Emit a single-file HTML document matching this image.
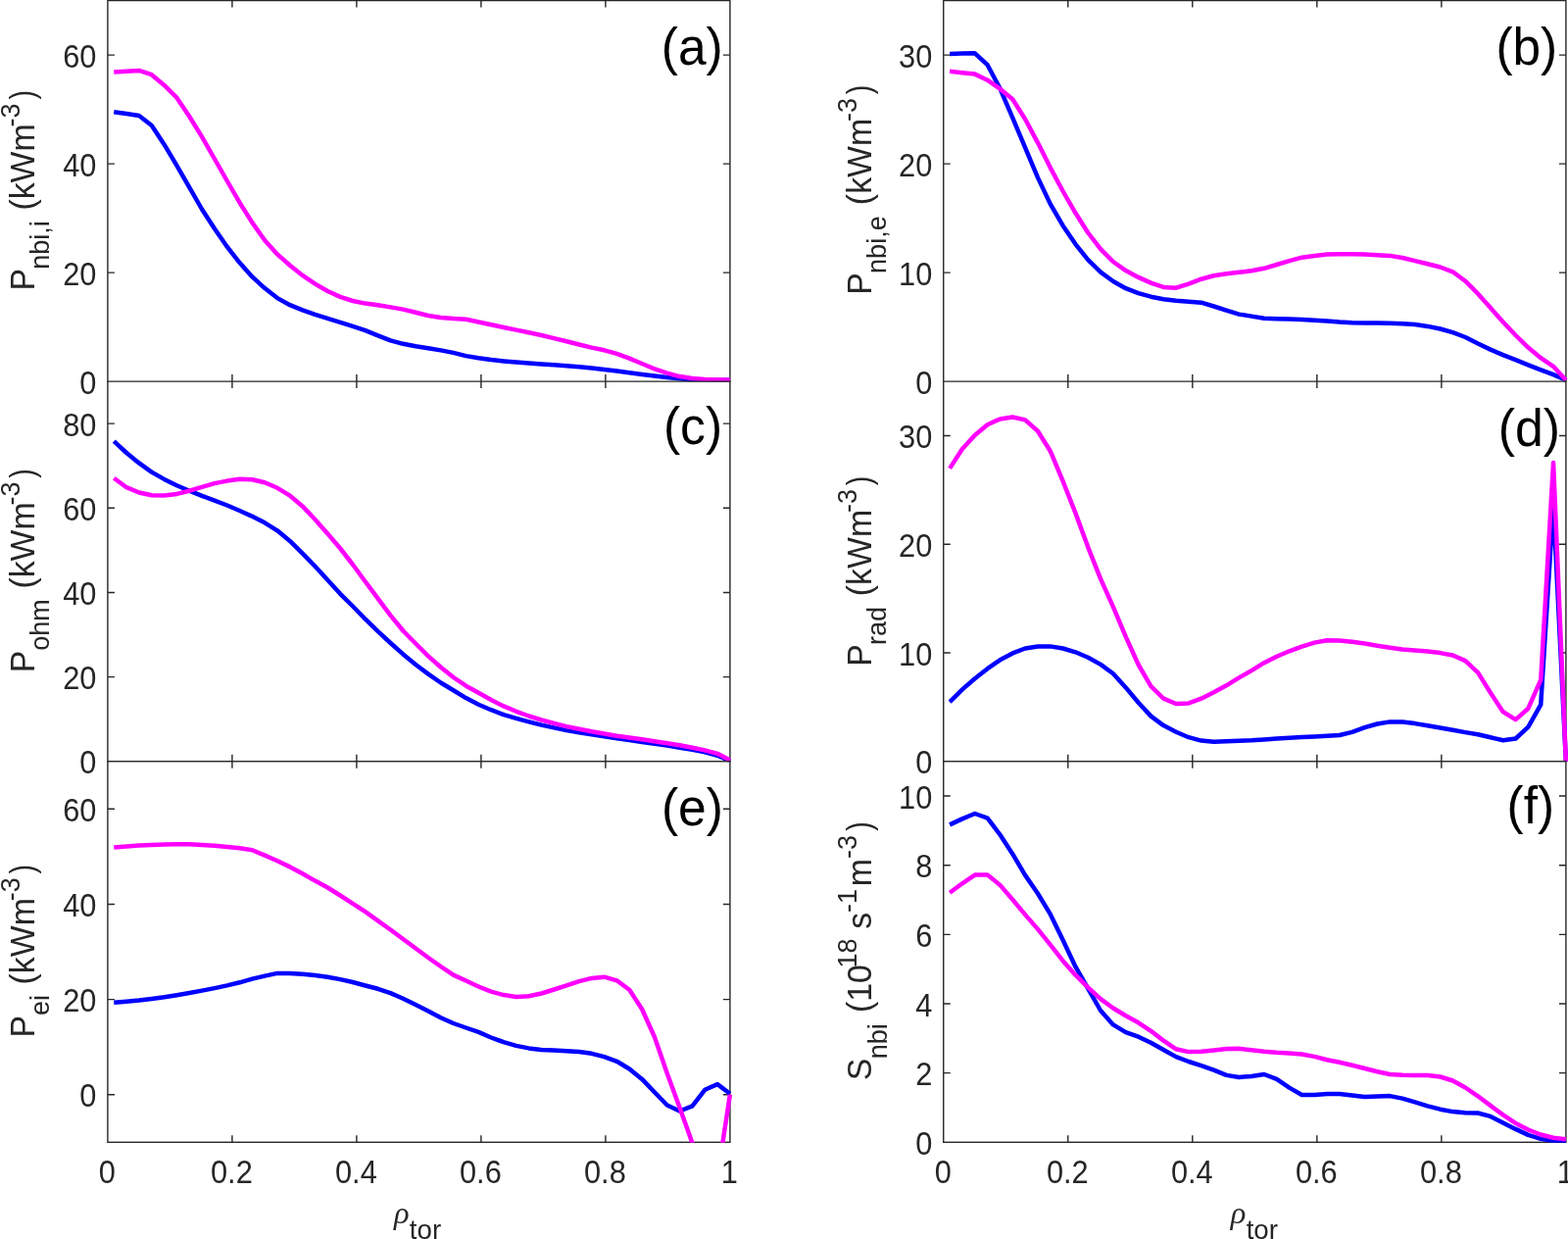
<!DOCTYPE html><html><head><meta charset="utf-8"><title>Power density profiles</title><style>html,body{margin:0;padding:0;background:#fff;overflow:hidden;}svg{display:block;}text{font-family:"Liberation Sans",Arial,sans-serif;}</style></head><body>
<svg width="1600" height="1264" viewBox="0 0 1600 1264">
<rect width="1600" height="1264" fill="#fff"/>
<defs>
<clipPath id="clip_a"><rect x="106.9" y="-2.4" width="641" height="392"/></clipPath>
<clipPath id="clip_b"><rect x="959.75" y="-2.4" width="641.15" height="392"/></clipPath>
<clipPath id="clip_c"><rect x="106.9" y="386.1" width="641" height="391.15"/></clipPath>
<clipPath id="clip_d"><rect x="959.75" y="386.1" width="641.15" height="391.15"/></clipPath>
<clipPath id="clip_e"><rect x="106.9" y="773.75" width="641" height="392.05"/></clipPath>
<clipPath id="clip_f"><rect x="959.75" y="773.75" width="641.15" height="392.05"/></clipPath>
</defs>
<path d="M109.9 0.6H744.9V389.1M109.9 0.6V389.1" fill="none" stroke="#262626" stroke-width="1.4" stroke-linecap="square"/>
<path d="M236.9 389.1V382.1M236.9 0.6V7.6M363.9 389.1V382.1M363.9 0.6V7.6M490.9 389.1V382.1M490.9 0.6V7.6M617.9 389.1V382.1M617.9 0.6V7.6M109.9 278.1H116.9M744.9 278.1H737.9M109.9 167.1H116.9M744.9 167.1H737.9M109.9 56.1H116.9M744.9 56.1H737.9" stroke="#262626" stroke-width="1.4" fill="none"/>
<path d="M116.25 114.2 L129.08 116 L141.91 118 L154.74 128 L167.57 147.4 L180.4 168.8 L193.23 191.2 L206.06 213.5 L218.89 233.3 L231.72 251.7 L244.55 268.1 L257.38 282.4 L270.21 294.1 L283.03 304.1 L295.86 311.2 L308.69 316.4 L321.52 320.9 L334.35 324.9 L347.18 328.8 L360.01 332.8 L372.84 337.1 L385.67 342.3 L398.5 347.3 L411.33 350.8 L424.16 353.3 L436.99 355.2 L449.82 357.4 L462.65 359.9 L475.48 363.1 L488.31 365.2 L501.14 367 L513.97 368.4 L526.8 369.6 L539.63 370.6 L552.46 371.4 L565.29 372.2 L578.12 373.2 L590.94 374.3 L603.77 375.6 L616.6 377 L629.43 378.6 L642.26 380.3 L655.09 381.9 L667.92 383.5 L680.75 384.9 L693.58 386.3 L706.41 387.3 L719.24 387.5 L732.07 387.7 L744.9 387.8" fill="none" stroke="#0000ff" stroke-width="4.5" stroke-linejoin="round" stroke-linecap="butt" clip-path="url(#clip_a)"/>
<path d="M116.25 73.4 L129.08 72.7 L141.91 71.9 L154.74 76.2 L167.57 86.9 L180.4 99.7 L193.23 118.7 L206.06 139.6 L218.89 162 L231.72 184.5 L244.55 206.7 L257.38 227.1 L270.21 245.2 L283.03 259.4 L295.86 270.8 L308.69 280.9 L321.52 289.6 L334.35 297 L347.18 302.9 L360.01 307 L372.84 309.6 L385.67 311.2 L398.5 313.4 L411.33 315.6 L424.16 318.8 L436.99 322 L449.82 323.9 L462.65 325.1 L475.48 325.8 L488.31 328.5 L501.14 331.3 L513.97 334 L526.8 336.6 L539.63 339.3 L552.46 342 L565.29 345.1 L578.12 348.2 L590.94 351.5 L603.77 354.6 L616.6 357.3 L629.43 360.8 L642.26 365.6 L655.09 371 L667.92 376.3 L680.75 380.6 L693.58 384.1 L706.41 386 L719.24 386.9 L732.07 387.2 L744.9 387.8" fill="none" stroke="#ff00ff" stroke-width="4.5" stroke-linejoin="round" stroke-linecap="butt" clip-path="url(#clip_a)"/>
<text transform="translate(98.4 401.7) scale(0.937 1)" font-size="32.86" fill="#262626" text-anchor="end">0</text>
<text transform="translate(98.4 290.7) scale(0.937 1)" font-size="32.86" fill="#262626" text-anchor="end">20</text>
<text transform="translate(98.4 179.7) scale(0.937 1)" font-size="32.86" fill="#262626" text-anchor="end">40</text>
<text transform="translate(98.4 68.7) scale(0.937 1)" font-size="32.86" fill="#262626" text-anchor="end">60</text>
<text transform="translate(674.79 65.64) scale(0.96 1)" font-size="53.67" fill="#000">(a)</text>
<g fill="#262626" style="font-kerning:none"><text transform="translate(35 296.47) rotate(-90) scale(0.95 1)" font-size="35.6">P</text><text transform="translate(50.4 274.69) rotate(-90) scale(0.975 1)" font-size="27.7">nbi,i</text><text transform="translate(35 214.57) rotate(-90) scale(0.95 1)" font-size="35.6">(kWm</text><text transform="translate(20 129.38) rotate(-90) scale(0.975 1)" font-size="27.7">-3</text><text transform="translate(35 101.62) rotate(-90) scale(0.8 1)" font-size="35.6">)</text></g>
<path d="M962.75 0.6H1597.9V389.1M962.75 0.6V389.1" fill="none" stroke="#262626" stroke-width="1.4" stroke-linecap="square"/>
<path d="M1089.78 389.1V382.1M1089.78 0.6V7.6M1216.81 389.1V382.1M1216.81 0.6V7.6M1343.84 389.1V382.1M1343.84 0.6V7.6M1470.87 389.1V382.1M1470.87 0.6V7.6M962.75 278.1H969.75M1597.9 278.1H1590.9M962.75 167.1H969.75M1597.9 167.1H1590.9M962.75 56.1H969.75M1597.9 56.1H1590.9" stroke="#262626" stroke-width="1.4" fill="none"/>
<path d="M969.1 54.9 L981.93 54.6 L994.77 54.3 L1007.6 66.2 L1020.43 90.3 L1033.26 120.2 L1046.1 150.7 L1058.93 181.1 L1071.76 208.1 L1084.6 230.2 L1097.43 249.1 L1110.26 265.1 L1123.09 277.6 L1135.93 287 L1148.76 294.2 L1161.59 299.2 L1174.42 302.7 L1187.26 305.2 L1200.09 306.8 L1212.92 307.8 L1225.75 308.7 L1238.59 312.5 L1251.42 316.7 L1264.25 320.6 L1277.08 322.6 L1289.92 324.8 L1302.75 325.3 L1315.58 325.6 L1328.41 325.9 L1341.25 326.8 L1354.08 327.6 L1366.91 328.6 L1379.75 329.2 L1392.58 329.5 L1405.41 329.5 L1418.24 329.7 L1431.08 330.2 L1443.91 331 L1456.74 332.9 L1469.57 335.5 L1482.41 339.2 L1495.24 344 L1508.07 350.5 L1520.9 356.6 L1533.74 362.1 L1546.57 367.2 L1559.4 372.4 L1572.23 377.4 L1585.07 382.1 L1597.9 387.8" fill="none" stroke="#0000ff" stroke-width="4.5" stroke-linejoin="round" stroke-linecap="butt" clip-path="url(#clip_b)"/>
<path d="M969.1 72.8 L981.93 74.2 L994.77 75.6 L1007.6 81.7 L1020.43 90.7 L1033.26 101.2 L1046.1 121.5 L1058.93 145.6 L1071.76 171.1 L1084.6 195 L1097.43 217.3 L1110.26 237.5 L1123.09 254.2 L1135.93 267 L1148.76 276.1 L1161.59 282.9 L1174.42 288.6 L1187.26 292.9 L1200.09 293.7 L1212.92 289.7 L1225.75 284.7 L1238.59 281.3 L1251.42 279.3 L1264.25 277.8 L1277.08 276.3 L1289.92 273.8 L1302.75 270 L1315.58 266.1 L1328.41 262.7 L1341.25 260.9 L1354.08 259.6 L1366.91 259.2 L1379.75 259.3 L1392.58 259.6 L1405.41 260.2 L1418.24 260.9 L1431.08 263 L1443.91 266.1 L1456.74 269.3 L1469.57 272.5 L1482.41 277.3 L1495.24 286.7 L1508.07 299.7 L1520.9 314.1 L1533.74 328.5 L1546.57 342 L1559.4 354.6 L1572.23 365.2 L1585.07 373.8 L1597.9 387.8" fill="none" stroke="#ff00ff" stroke-width="4.5" stroke-linejoin="round" stroke-linecap="butt" clip-path="url(#clip_b)"/>
<text transform="translate(951.25 401.7) scale(0.937 1)" font-size="32.86" fill="#262626" text-anchor="end">0</text>
<text transform="translate(951.25 290.7) scale(0.937 1)" font-size="32.86" fill="#262626" text-anchor="end">10</text>
<text transform="translate(951.25 179.7) scale(0.937 1)" font-size="32.86" fill="#262626" text-anchor="end">20</text>
<text transform="translate(951.25 68.7) scale(0.937 1)" font-size="32.86" fill="#262626" text-anchor="end">30</text>
<text transform="translate(1526.4 65.62) scale(0.96 1)" font-size="53.52" fill="#000">(b)</text>
<g fill="#262626" style="font-kerning:none"><text transform="translate(888.8 300.67) rotate(-90) scale(0.95 1)" font-size="35.6">P</text><text transform="translate(904.2 278.89) rotate(-90) scale(0.975 1)" font-size="27.7">nbi,e</text><text transform="translate(888.8 209.13) rotate(-90) scale(0.95 1)" font-size="35.6">(kWm</text><text transform="translate(873.8 123.94) rotate(-90) scale(0.975 1)" font-size="27.7">-3</text><text transform="translate(888.8 96.18) rotate(-90) scale(0.8 1)" font-size="35.6">)</text></g>
<path d="M109.9 389.1H744.9V776.75M109.9 389.1V776.75" fill="none" stroke="#262626" stroke-width="1.4" stroke-linecap="square"/>
<path d="M236.9 776.75V769.75M236.9 389.1V396.1M363.9 776.75V769.75M363.9 389.1V396.1M490.9 776.75V769.75M490.9 389.1V396.1M617.9 776.75V769.75M617.9 389.1V396.1M109.9 690.61H116.9M744.9 690.61H737.9M109.9 604.46H116.9M744.9 604.46H737.9M109.9 518.32H116.9M744.9 518.32H737.9M109.9 432.17H116.9M744.9 432.17H737.9" stroke="#262626" stroke-width="1.4" fill="none"/>
<path d="M116.25 450.2 L129.08 462 L141.91 472.4 L154.74 481.6 L167.57 488.9 L180.4 495.2 L193.23 500.7 L206.06 505.8 L218.89 510.6 L231.72 515.5 L244.55 521 L257.38 526.8 L270.21 533.3 L283.03 541.3 L295.86 551.9 L308.69 564.6 L321.52 577.8 L334.35 591.7 L347.18 605.8 L360.01 618.5 L372.84 631.7 L385.67 644.2 L398.5 656 L411.33 667.4 L424.16 678 L436.99 687.6 L449.82 696.5 L462.65 704.2 L475.48 712.1 L488.31 718.7 L501.14 724.2 L513.97 729.1 L526.8 732.8 L539.63 736.3 L552.46 739.6 L565.29 742.4 L578.12 745.1 L590.94 747.3 L603.77 749.4 L616.6 751.3 L629.43 753.2 L642.26 755.1 L655.09 757 L667.92 758.8 L680.75 760.6 L693.58 762.8 L706.41 764.9 L719.24 767.4 L732.07 770.8 L744.9 776.2" fill="none" stroke="#0000ff" stroke-width="4.5" stroke-linejoin="round" stroke-linecap="butt" clip-path="url(#clip_c)"/>
<path d="M116.25 487.8 L129.08 497.2 L141.91 502.5 L154.74 505.3 L167.57 505.6 L180.4 503.9 L193.23 500.7 L206.06 496.9 L218.89 493.1 L231.72 490.6 L244.55 488.7 L257.38 489.2 L270.21 492.3 L283.03 497.8 L295.86 505.7 L308.69 516.4 L321.52 530 L334.35 544.5 L347.18 559.5 L360.01 576 L372.84 593.5 L385.67 610.6 L398.5 627.8 L411.33 643.5 L424.16 656.5 L436.99 669.4 L449.82 680.8 L462.65 691 L475.48 699.7 L488.31 706.8 L501.14 714 L513.97 720.4 L526.8 725.8 L539.63 730.5 L552.46 734.5 L565.29 737.9 L578.12 741.1 L590.94 743.7 L603.77 746.3 L616.6 748.5 L629.43 750.7 L642.26 752.5 L655.09 754.3 L667.92 756.2 L680.75 758.2 L693.58 760.3 L706.41 762.8 L719.24 765.4 L732.07 768.8 L744.9 775.6" fill="none" stroke="#ff00ff" stroke-width="4.5" stroke-linejoin="round" stroke-linecap="butt" clip-path="url(#clip_c)"/>
<text transform="translate(98.4 789.35) scale(0.937 1)" font-size="32.86" fill="#262626" text-anchor="end">0</text>
<text transform="translate(98.4 703.21) scale(0.937 1)" font-size="32.86" fill="#262626" text-anchor="end">20</text>
<text transform="translate(98.4 617.06) scale(0.937 1)" font-size="32.86" fill="#262626" text-anchor="end">40</text>
<text transform="translate(98.4 530.92) scale(0.937 1)" font-size="32.86" fill="#262626" text-anchor="end">60</text>
<text transform="translate(98.4 444.77) scale(0.937 1)" font-size="32.86" fill="#262626" text-anchor="end">80</text>
<text transform="translate(676.9 452.68) scale(0.97 1)" font-size="53.24" fill="#000">(c)</text>
<g fill="#262626" style="font-kerning:none"><text transform="translate(35 686.17) rotate(-90) scale(0.95 1)" font-size="35.6">P</text><text transform="translate(50.4 663.73) rotate(-90) scale(0.975 1)" font-size="27.7">ohm</text><text transform="translate(35 600.57) rotate(-90) scale(0.95 1)" font-size="35.6">(kWm</text><text transform="translate(20 515.39) rotate(-90) scale(0.975 1)" font-size="27.7">-3</text><text transform="translate(35 487.63) rotate(-90) scale(0.8 1)" font-size="35.6">)</text></g>
<path d="M962.75 389.1H1597.9V776.75M962.75 389.1V776.75" fill="none" stroke="#262626" stroke-width="1.4" stroke-linecap="square"/>
<path d="M1089.78 776.75V769.75M1089.78 389.1V396.1M1216.81 776.75V769.75M1216.81 389.1V396.1M1343.84 776.75V769.75M1343.84 389.1V396.1M1470.87 776.75V769.75M1470.87 389.1V396.1M962.75 665.99H969.75M1597.9 665.99H1590.9M962.75 555.24H969.75M1597.9 555.24H1590.9M962.75 444.48H969.75M1597.9 444.48H1590.9" stroke="#262626" stroke-width="1.4" fill="none"/>
<path d="M969.1 716.1 L981.93 703.4 L994.77 692.3 L1007.6 682.2 L1020.43 673.3 L1033.26 666.4 L1046.1 661.5 L1058.93 659.5 L1071.76 659.4 L1084.6 661.5 L1097.43 665.3 L1110.26 670.8 L1123.09 677.9 L1135.93 687.3 L1148.76 701.4 L1161.59 716.7 L1174.42 730.6 L1187.26 740.1 L1200.09 746.7 L1212.92 752.2 L1225.75 755.6 L1238.59 756.7 L1251.42 756.3 L1264.25 755.7 L1277.08 755.2 L1289.92 754.4 L1302.75 753.5 L1315.58 752.7 L1328.41 752.1 L1341.25 751.5 L1354.08 750.7 L1366.91 750 L1379.75 746.9 L1392.58 742.2 L1405.41 738.5 L1418.24 736.4 L1431.08 736.4 L1443.91 738.1 L1456.74 740.2 L1469.57 742.5 L1482.41 744.8 L1495.24 747.1 L1508.07 749.2 L1520.9 752.3 L1533.74 755.2 L1546.57 753.5 L1559.4 741.7 L1572.23 718.9 L1585.07 515 L1597.9 776.75" fill="none" stroke="#0000ff" stroke-width="4.5" stroke-linejoin="round" stroke-linecap="butt" clip-path="url(#clip_d)"/>
<path d="M969.1 477.9 L981.93 458 L994.77 443.9 L1007.6 433.2 L1020.43 427.5 L1033.26 425.5 L1046.1 428.4 L1058.93 439.7 L1071.76 460.2 L1084.6 490.9 L1097.43 523.4 L1110.26 558.3 L1123.09 590.7 L1135.93 619.2 L1148.76 649.6 L1161.59 678 L1174.42 700.1 L1187.26 712.6 L1200.09 718 L1212.92 717.4 L1225.75 712.7 L1238.59 706.3 L1251.42 699.3 L1264.25 691.4 L1277.08 684.1 L1289.92 676.2 L1302.75 669.7 L1315.58 664.3 L1328.41 659.7 L1341.25 655.6 L1354.08 653.3 L1366.91 653.4 L1379.75 654.7 L1392.58 656.6 L1405.41 658.7 L1418.24 660.7 L1431.08 662.5 L1443.91 663.4 L1456.74 664.6 L1469.57 666.1 L1482.41 668.5 L1495.24 674.1 L1508.07 686.1 L1520.9 706.8 L1533.74 726.2 L1546.57 734.1 L1559.4 722.7 L1572.23 693.7 L1585.07 472 L1597.9 776.75" fill="none" stroke="#ff00ff" stroke-width="4.5" stroke-linejoin="round" stroke-linecap="butt" clip-path="url(#clip_d)"/>
<text transform="translate(951.25 789.35) scale(0.937 1)" font-size="32.86" fill="#262626" text-anchor="end">0</text>
<text transform="translate(951.25 678.59) scale(0.937 1)" font-size="32.86" fill="#262626" text-anchor="end">10</text>
<text transform="translate(951.25 567.84) scale(0.937 1)" font-size="32.86" fill="#262626" text-anchor="end">20</text>
<text transform="translate(951.25 457.08) scale(0.937 1)" font-size="32.86" fill="#262626" text-anchor="end">30</text>
<text transform="translate(1528.68 454.73) scale(0.97 1)" font-size="53.45" fill="#000">(d)</text>
<g fill="#262626" style="font-kerning:none"><text transform="translate(888.8 679.67) rotate(-90) scale(0.95 1)" font-size="35.6">P</text><text transform="translate(904.2 657.89) rotate(-90) scale(0.975 1)" font-size="27.7">rad</text><text transform="translate(888.8 608.2) rotate(-90) scale(0.95 1)" font-size="35.6">(kWm</text><text transform="translate(873.8 523.01) rotate(-90) scale(0.975 1)" font-size="27.7">-3</text><text transform="translate(888.8 495.25) rotate(-90) scale(0.8 1)" font-size="35.6">)</text></g>
<rect x="109.9" y="776.75" width="635" height="388.55" fill="none" stroke="#262626" stroke-width="1.4"/>
<path d="M236.9 1165.3V1158.3M236.9 776.75V783.75M363.9 1165.3V1158.3M363.9 776.75V783.75M490.9 1165.3V1158.3M490.9 776.75V783.75M617.9 1165.3V1158.3M617.9 776.75V783.75M109.9 1116.73H116.9M744.9 1116.73H737.9M109.9 1019.59H116.9M744.9 1019.59H737.9M109.9 922.46H116.9M744.9 922.46H737.9M109.9 825.32H116.9M744.9 825.32H737.9" stroke="#262626" stroke-width="1.4" fill="none"/>
<path d="M116.25 1022.8 L129.08 1021.7 L141.91 1020.5 L154.74 1018.9 L167.57 1017.3 L180.4 1015.2 L193.23 1013 L206.06 1010.6 L218.89 1008.1 L231.72 1005.4 L244.55 1002.3 L257.38 998.6 L270.21 995.6 L283.03 992.9 L295.86 993 L308.69 993.8 L321.52 995.1 L334.35 996.7 L347.18 999.1 L360.01 1002 L372.84 1005.5 L385.67 1008.8 L398.5 1013.1 L411.33 1018.8 L424.16 1025 L436.99 1031.4 L449.82 1038.3 L462.65 1044 L475.48 1048.5 L488.31 1052.9 L501.14 1058.5 L513.97 1063.2 L526.8 1066.9 L539.63 1069.4 L552.46 1070.9 L565.29 1071.6 L578.12 1072.2 L590.94 1072.9 L603.77 1074.8 L616.6 1078.2 L629.43 1082.8 L642.26 1090.5 L655.09 1100.9 L667.92 1114.2 L680.75 1127.5 L693.58 1133.5 L706.41 1128.3 L719.24 1111.8 L732.07 1106.1 L744.9 1115.7" fill="none" stroke="#0000ff" stroke-width="4.5" stroke-linejoin="round" stroke-linecap="butt" clip-path="url(#clip_e)"/>
<path d="M116.25 864.5 L129.08 863.4 L141.91 862.4 L154.74 861.9 L167.57 861.4 L180.4 861.3 L193.23 861.3 L206.06 862 L218.89 862.7 L231.72 863.9 L244.55 865.3 L257.38 867.2 L270.21 872.6 L283.03 878.3 L295.86 884.4 L308.69 891.2 L321.52 898.6 L334.35 905.5 L347.18 913.5 L360.01 921.8 L372.84 930.2 L385.67 939.3 L398.5 948.5 L411.33 958 L424.16 967.5 L436.99 977 L449.82 986 L462.65 994.6 L475.48 1000.5 L488.31 1006.5 L501.14 1011.6 L513.97 1015.1 L526.8 1017 L539.63 1016.3 L552.46 1013.5 L565.29 1009.5 L578.12 1005.3 L590.94 1001.1 L603.77 997.9 L616.6 996.7 L629.43 1000.3 L642.26 1009.7 L655.09 1029.5 L667.92 1058 L680.75 1095 L693.58 1130 L706.41 1166 L719.24 1195 L732.07 1201 L744.9 1116.7" fill="none" stroke="#ff00ff" stroke-width="4.5" stroke-linejoin="round" stroke-linecap="butt" clip-path="url(#clip_e)"/>
<text transform="translate(98.4 1129.33) scale(0.937 1)" font-size="32.86" fill="#262626" text-anchor="end">0</text>
<text transform="translate(98.4 1032.19) scale(0.937 1)" font-size="32.86" fill="#262626" text-anchor="end">20</text>
<text transform="translate(98.4 935.06) scale(0.937 1)" font-size="32.86" fill="#262626" text-anchor="end">40</text>
<text transform="translate(98.4 837.92) scale(0.937 1)" font-size="32.86" fill="#262626" text-anchor="end">60</text>
<text transform="translate(109.4 1207.3) scale(0.937 1)" font-size="32.86" fill="#262626" text-anchor="middle">0</text>
<text transform="translate(236.4 1207.3) scale(0.937 1)" font-size="32.86" fill="#262626" text-anchor="middle">0.2</text>
<text transform="translate(363.4 1207.3) scale(0.937 1)" font-size="32.86" fill="#262626" text-anchor="middle">0.4</text>
<text transform="translate(490.4 1207.3) scale(0.937 1)" font-size="32.86" fill="#262626" text-anchor="middle">0.6</text>
<text transform="translate(617.4 1207.3) scale(0.937 1)" font-size="32.86" fill="#262626" text-anchor="middle">0.8</text>
<text transform="translate(744.4 1207.3) scale(0.937 1)" font-size="32.86" fill="#262626" text-anchor="middle">1</text>
<text x="401.9" y="1248.15" font-size="32.5" fill="#262626" style="font-family:&quot;Liberation Serif&quot;,serif;font-style:italic">ρ</text>
<text x="417.8" y="1264.2" font-size="27.7" fill="#262626">tor</text>
<text transform="translate(674.91 842.46) scale(0.95 1)" font-size="54.31" fill="#000">(e)</text>
<g fill="#262626" style="font-kerning:none"><text transform="translate(35 1058.47) rotate(-90) scale(0.95 1)" font-size="35.6">P</text><text transform="translate(50.4 1036.05) rotate(-90) scale(0.975 1)" font-size="27.7">ei</text><text transform="translate(35 1004.44) rotate(-90) scale(0.95 1)" font-size="35.6">(kWm</text><text transform="translate(20 919.26) rotate(-90) scale(0.975 1)" font-size="27.7">-3</text><text transform="translate(35 891.5) rotate(-90) scale(0.8 1)" font-size="35.6">)</text></g>
<rect x="962.75" y="776.75" width="635.15" height="388.55" fill="none" stroke="#262626" stroke-width="1.4"/>
<path d="M1089.78 1165.3V1158.3M1089.78 776.75V783.75M1216.81 1165.3V1158.3M1216.81 776.75V783.75M1343.84 1165.3V1158.3M1343.84 776.75V783.75M1470.87 1165.3V1158.3M1470.87 776.75V783.75M962.75 1094.65H969.75M1597.9 1094.65H1590.9M962.75 1024.01H969.75M1597.9 1024.01H1590.9M962.75 953.36H969.75M1597.9 953.36H1590.9M962.75 882.72H969.75M1597.9 882.72H1590.9M962.75 812.07H969.75M1597.9 812.07H1590.9" stroke="#262626" stroke-width="1.4" fill="none"/>
<path d="M969.1 841.4 L981.93 835.4 L994.77 830 L1007.6 834.6 L1020.43 851.5 L1033.26 871.2 L1046.1 892.9 L1058.93 911.5 L1071.76 932.7 L1084.6 959 L1097.43 986.2 L1110.26 1008.7 L1123.09 1031 L1135.93 1045.4 L1148.76 1053.1 L1161.59 1057.7 L1174.42 1063.8 L1187.26 1071 L1200.09 1078.1 L1212.92 1083 L1225.75 1087.2 L1238.59 1091.7 L1251.42 1096.9 L1264.25 1099 L1277.08 1097.9 L1289.92 1096 L1302.75 1100.9 L1315.58 1109.6 L1328.41 1117 L1341.25 1117.1 L1354.08 1116.1 L1366.91 1116 L1379.75 1117.6 L1392.58 1119.1 L1405.41 1118.4 L1418.24 1118.1 L1431.08 1120.6 L1443.91 1124.4 L1456.74 1128.3 L1469.57 1131.7 L1482.41 1134.1 L1495.24 1135.3 L1508.07 1135.5 L1520.9 1138.9 L1533.74 1145.5 L1546.57 1151.9 L1559.4 1157.9 L1572.23 1161.9 L1585.07 1163.9 L1597.9 1165.4" fill="none" stroke="#0000ff" stroke-width="4.5" stroke-linejoin="round" stroke-linecap="butt" clip-path="url(#clip_f)"/>
<path d="M969.1 910.8 L981.93 901.3 L994.77 892.6 L1007.6 892.6 L1020.43 902.9 L1033.26 917.7 L1046.1 933.1 L1058.93 947.9 L1071.76 963.9 L1084.6 980.2 L1097.43 994.7 L1110.26 1007.4 L1123.09 1019.1 L1135.93 1028.5 L1148.76 1036.2 L1161.59 1043.3 L1174.42 1051.8 L1187.26 1061.6 L1200.09 1070.3 L1212.92 1073.1 L1225.75 1072.8 L1238.59 1071.5 L1251.42 1070.1 L1264.25 1069.8 L1277.08 1071.2 L1289.92 1072.8 L1302.75 1073.8 L1315.58 1074.4 L1328.41 1075.5 L1341.25 1077.9 L1354.08 1081.2 L1366.91 1083.8 L1379.75 1086.8 L1392.58 1090 L1405.41 1093.2 L1418.24 1096 L1431.08 1096.8 L1443.91 1096.9 L1456.74 1096.9 L1469.57 1098.5 L1482.41 1102.5 L1495.24 1109.5 L1508.07 1118.3 L1520.9 1127.9 L1533.74 1137.4 L1546.57 1145.9 L1559.4 1152.5 L1572.23 1157.5 L1585.07 1160.7 L1597.9 1162.3" fill="none" stroke="#ff00ff" stroke-width="4.5" stroke-linejoin="round" stroke-linecap="butt" clip-path="url(#clip_f)"/>
<text transform="translate(951.25 1177.9) scale(0.937 1)" font-size="32.86" fill="#262626" text-anchor="end">0</text>
<text transform="translate(951.25 1107.25) scale(0.937 1)" font-size="32.86" fill="#262626" text-anchor="end">2</text>
<text transform="translate(951.25 1036.61) scale(0.937 1)" font-size="32.86" fill="#262626" text-anchor="end">4</text>
<text transform="translate(951.25 965.96) scale(0.937 1)" font-size="32.86" fill="#262626" text-anchor="end">6</text>
<text transform="translate(951.25 895.32) scale(0.937 1)" font-size="32.86" fill="#262626" text-anchor="end">8</text>
<text transform="translate(951.25 824.67) scale(0.937 1)" font-size="32.86" fill="#262626" text-anchor="end">10</text>
<text transform="translate(962.25 1207.3) scale(0.937 1)" font-size="32.86" fill="#262626" text-anchor="middle">0</text>
<text transform="translate(1089.28 1207.3) scale(0.937 1)" font-size="32.86" fill="#262626" text-anchor="middle">0.2</text>
<text transform="translate(1216.31 1207.3) scale(0.937 1)" font-size="32.86" fill="#262626" text-anchor="middle">0.4</text>
<text transform="translate(1343.34 1207.3) scale(0.937 1)" font-size="32.86" fill="#262626" text-anchor="middle">0.6</text>
<text transform="translate(1470.37 1207.3) scale(0.937 1)" font-size="32.86" fill="#262626" text-anchor="middle">0.8</text>
<text transform="translate(1597.4 1207.3) scale(0.937 1)" font-size="32.86" fill="#262626" text-anchor="middle">1</text>
<text x="1255.75" y="1248.15" font-size="32.5" fill="#262626" style="font-family:&quot;Liberation Serif&quot;,serif;font-style:italic">ρ</text>
<text x="1271.65" y="1264.2" font-size="27.7" fill="#262626">tor</text>
<text transform="translate(1537.61 839.96) scale(0.96 1)" font-size="53.35" fill="#000">(f)</text>
<g fill="#262626" style="font-kerning:none"><text transform="translate(889.3 1102.14) rotate(-90) scale(0.95 1)" font-size="35.6">S</text><text transform="translate(904.7 1080.29) rotate(-90) scale(0.975 1)" font-size="27.7">nbi</text><text transform="translate(889.3 1033.1) rotate(-90) scale(0.95 1)" font-size="35.6">(10</text><text transform="translate(874.3 987.46) rotate(-90) scale(0.975 1)" font-size="27.7">18</text><text transform="translate(889.3 947.74) rotate(-90) scale(0.95 1)" font-size="35.6">s</text><text transform="translate(874.3 930.9) rotate(-90) scale(0.975 1)" font-size="27.7">-1</text><text transform="translate(889.3 904.25) rotate(-90) scale(0.95 1)" font-size="35.6">m</text><text transform="translate(874.3 876) rotate(-90) scale(0.975 1)" font-size="27.7">-3</text><text transform="translate(889.3 847.87) rotate(-90) scale(0.8 1)" font-size="35.6">)</text></g>
</svg></body></html>
